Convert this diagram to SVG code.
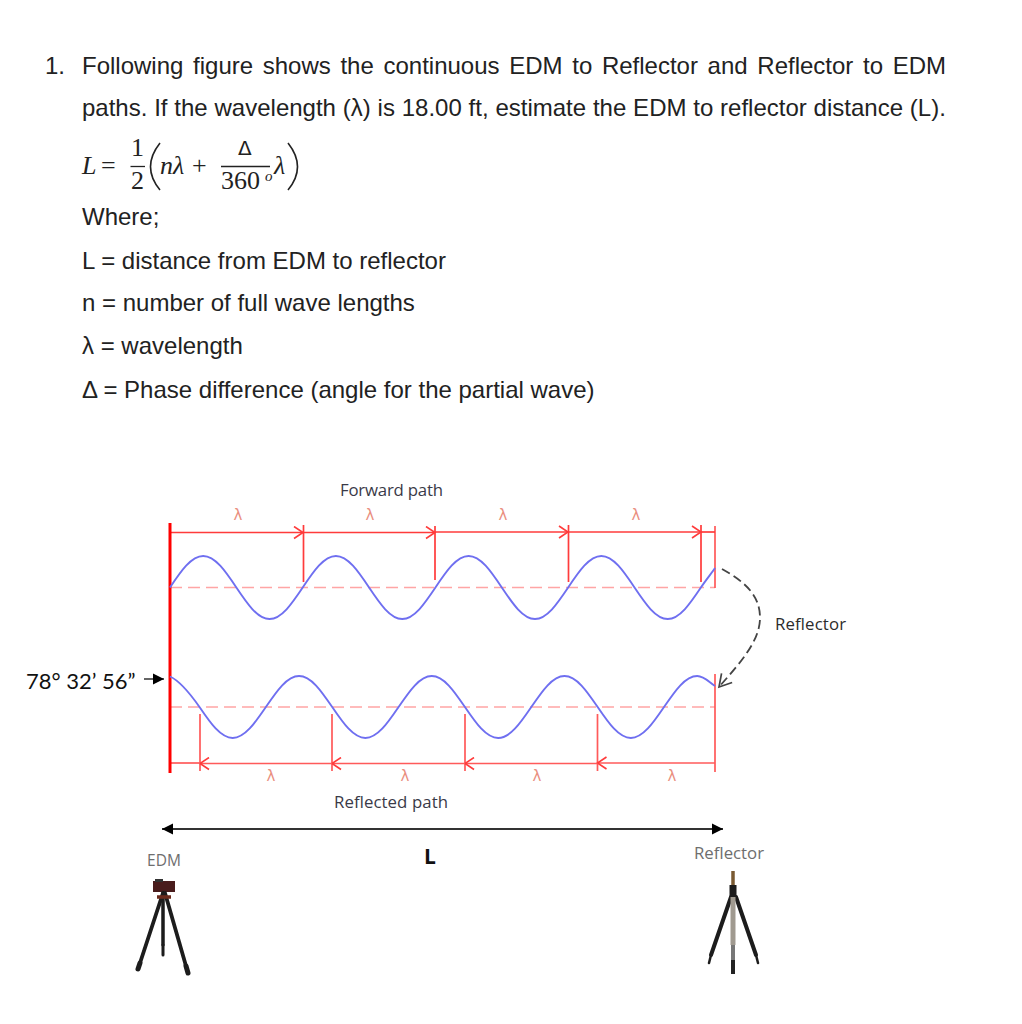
<svg xmlns="http://www.w3.org/2000/svg" width="1022" height="1024" viewBox="0 0 1022 1024">
<style>
.b{font-family:"Liberation Sans",Arial,sans-serif;font-size:24px;fill:#222}
.m{font-family:"Liberation Serif","DejaVu Serif",serif;font-size:26px;fill:#222}
.i{font-style:italic}
.d{font-family:"Open Sans","Noto Sans",sans-serif;font-size:16.8px;fill:#3a3a48}
.g{fill:#6e6e6e}
.l{font-family:"DejaVu Sans",sans-serif;font-size:15px;fill:#ea8f80;text-anchor:middle}
.r{stroke:#ff3b3b;stroke-width:1.7;fill:none}
.p{stroke:#ff5a5a;stroke-width:1.7;fill:none}
.dash{stroke:#ffa5a5;stroke-width:1.7;stroke-dasharray:12 6;fill:none}
.w{stroke:#6f6ff0;stroke-width:1.9;fill:none}
.leg{stroke:#1c1c1c;stroke-linecap:round;fill:none}
</style>
<defs>
<marker id="ar" markerWidth="12" markerHeight="14" refX="10" refY="7" orient="auto" markerUnits="userSpaceOnUse"><path d="M1,1L10,7L1,13" fill="none" stroke="#ff3b3b" stroke-width="1.6"/></marker>
<marker id="ag" markerWidth="16" markerHeight="16" refX="13" refY="8" orient="auto" markerUnits="userSpaceOnUse"><path d="M1,1L13,8L1,15" fill="none" stroke="#444" stroke-width="1.7"/></marker>
<marker id="bk" markerWidth="12" markerHeight="12" refX="11" refY="6" orient="auto-start-reverse" markerUnits="userSpaceOnUse"><path d="M0,0.5L11,6L0,11.5Z" fill="#000"/></marker>
<filter id="soft" x="-20%" y="-20%" width="140%" height="140%"><feGaussianBlur stdDeviation="0.7"/></filter>
</defs>

<g id="question">
<text class="b" x="45" y="74">1.</text>
<text class="b" x="82" y="74" style="word-spacing:3px">Following figure shows the continuous EDM to Reflector and Reflector to EDM</text>
<text class="b" x="82" y="116" style="word-spacing:0.15px">paths. If the wavelength (λ) is 18.00 ft, estimate the EDM to reflector distance (L).</text>
<text class="m i" x="82" y="174">L</text>
<text class="m" x="101" y="174">=</text>
<text class="m" x="131" y="156">1</text>
<text class="m" x="131" y="189">2</text>
<path d="M130.500 166.500H145" stroke="#222" stroke-width="1.300"/>
<path d="M160,143Q141,167 160,190M288,143Q307,167 288,190" stroke="#222" stroke-width="1.600" fill="none"/>
<text class="m i" x="160" y="174">nλ</text>
<text class="m" x="192" y="174">+</text>
<text class="m" x="238" y="155" style="font-family:'DejaVu Sans',sans-serif;font-size:20px">Δ</text>
<path d="M221 166.500H270" stroke="#222" stroke-width="1.300"/>
<text class="m" x="221" y="189">360</text>
<text class="m i" x="265" y="181" style="font-size:15px">o</text>
<text class="m i" x="274" y="174">λ</text>
<text class="b" x="82" y="225">Where;</text>
<text class="b" x="82" y="269">L = distance from EDM to reflector</text>
<text class="b" x="82" y="311">n = number of full wave lengths</text>
<text class="b" x="82" y="354">λ = wavelength</text>
<text class="b" x="82" y="398">Δ = Phase difference (angle for the partial wave)</text>
</g>

<g id="connectors">
<path class="dash" d="M170 587.500H715"/>
<path class="dash" d="M170 707H715"/>
<path class="p" d="M715 526V588M715 674V772"/>
<path class="r" d="M171 532.500H303" marker-end="url(#ar)"/>
<path class="r" d="M303 532.500H435" marker-end="url(#ar)"/>
<path class="r" d="M435 532H568" marker-end="url(#ar)"/>
<path class="r" d="M568 532H701" marker-end="url(#ar)"/>
<path class="r" d="M701 532H715"/>
<path class="r" d="M303.500 525V582M435 526V580M568.500 525V582M701 525V582"/>
<path class="p" d="M200 714V771M332 714V771M465 714V771M597.500 714V771"/>
<path class="p" d="M715 763H597.500" marker-end="url(#ar)"/>
<path class="p" d="M597.500 763.500H465" marker-end="url(#ar)"/>
<path class="p" d="M465 763.500H332" marker-end="url(#ar)"/>
<path class="p" d="M332 763.500H200" marker-end="url(#ar)"/>
<path class="p" d="M200 763H170"/>
<path d="M170 523V773" stroke="#f00" stroke-width="3" fill="none"/>
<path class="w" d="M170 587.500c10.820-16.140 21.170-31.500 33.180-31.500c12.010 0 22.360 15.360 33.180 31.500c10.820 16.140 21.170 31.500 33.180 31.500c12.010 0 22.360-15.360 33.180-31.500c10.820-16.140 21.170-31.500 33.180-31.500c12.010 0 22.360 15.360 33.180 31.500c10.820 16.140 21.170 31.500 33.180 31.500c12.010 0 22.360-15.360 33.180-31.500c10.820-16.140 21.170-31.500 33.180-31.500c12.010 0 22.360 15.360 33.180 31.500c10.820 16.140 21.170 31.500 33.180 31.500c12.010 0 22.360-15.360 33.180-31.500c10.820-16.140 21.170-31.500 33.180-31.500c12.010 0 22.360 15.360 33.180 31.500c10.820 16.140 21.170 31.500 33.180 31.500c12.010 0 22.360-15.360 33.180-31.500c5-7.500 10-13.500 14.200-19.500"/>
<path class="w" d="M170 676.500C180 681 189 692 199.500 707c10.820 15.880 21.170 31 33.180 31c12.010 0 22.360-15.120 33.180-31c10.820-15.880 21.170-31 33.180-31c12.010 0 22.360 15.120 33.180 31c10.820 15.880 21.170 31 33.180 31c12.010 0 22.360-15.120 33.180-31c10.820-15.880 21.170-31 33.180-31c12.010 0 22.360 15.120 33.180 31c10.820 15.880 21.170 31 33.180 31c12.010 0 22.360-15.120 33.180-31c10.820-15.880 21.170-31 33.180-31c12.010 0 22.360 15.120 33.180 31c10.820 15.880 21.170 31 33.180 31c12.010 0 22.360-15.120 33.180-31c10.820-15.880 21.170-31 33.180-31C704 676 709 682 715 686"/>
<path d="M722 569C745 582 760 595 760 618C760 642 738 665 719 687" stroke="#444" stroke-width="1.800" stroke-dasharray="9 4.500" fill="none" marker-end="url(#ag)"/>
<path d="M144 679H164" stroke="#111" stroke-width="1.300" fill="none" marker-end="url(#bk)"/>
<path d="M162 829H723" stroke="#333" stroke-width="2" fill="none" marker-start="url(#bk)" marker-end="url(#bk)"/>
</g>

<g id="labels">
<text class="d" x="340" y="496" textLength="103">Forward path</text>
<text class="d" x="334" y="808" textLength="114">Reflected path</text>
<text class="d" x="775" y="630" textLength="71" style="fill:#2c2c2c">Reflector</text>
<text class="l" x="238" y="520">λ</text><text class="l" x="370" y="520">λ</text><text class="l" x="503" y="520">λ</text><text class="l" x="636" y="520">λ</text>
<text class="l" x="271" y="781">λ</text><text class="l" x="405" y="781">λ</text><text class="l" x="537" y="781">λ</text><text class="l" x="672" y="781">λ</text>
<text x="26" y="689" style="font-family:Lato,'Open Sans',sans-serif;font-size:22px;fill:#111">78° 32’ 56”</text>
<text x="424" y="864" style="font-family:'Open Sans',sans-serif;font-size:21px;font-weight:700;fill:#111">L</text>
</g>

<g id="edm">
<text class="d g" x="147" y="866" style="font-size:15.500px" textLength="34">EDM</text>
<g filter="url(#soft)">
<rect x="153" y="881" width="22" height="11" fill="#4a1c1c"/>
<rect x="155" y="879" width="8" height="3" fill="#333"/>
<path class="leg" d="M163 893L140 963" stroke-width="3.800"/>
<path class="leg" d="M140 963L138 969" stroke-width="5"/>
<path class="leg" d="M163 893V945" stroke-width="3.500"/>
<path class="leg" d="M163 945V955" stroke="#666" stroke-width="3"/>
<path class="leg" d="M165 893L186 966" stroke-width="3.800"/>
<path class="leg" d="M186 966L188 973" stroke-width="5"/>
<path d="M157 897H171" stroke="#6b2a1a" stroke-width="3.500"/>
</g>
</g>

<g id="reflector">
<text class="d g" x="694" y="859" textLength="70">Reflector</text>
<g filter="url(#soft)">
<path d="M733 871V885" stroke="#7a5a30" stroke-width="3.500"/>
<path d="M733 885V899" stroke="#1c1c1c" stroke-width="7"/>
<path class="leg" d="M731 897L711 955" stroke-width="4"/>
<path class="leg" d="M711 955L709 963" stroke="#555" stroke-width="2.500"/>
<path class="leg" d="M736 897L756 955" stroke-width="4"/>
<path class="leg" d="M756 955L758 963" stroke="#555" stroke-width="2.500"/>
<path d="M733 897V945" stroke="#a09a90" stroke-width="5"/>
<path d="M733 945V960" stroke="#777" stroke-width="4"/>
<path d="M733 960V974" stroke="#222" stroke-width="4"/>
</g>
</g>
</svg>
